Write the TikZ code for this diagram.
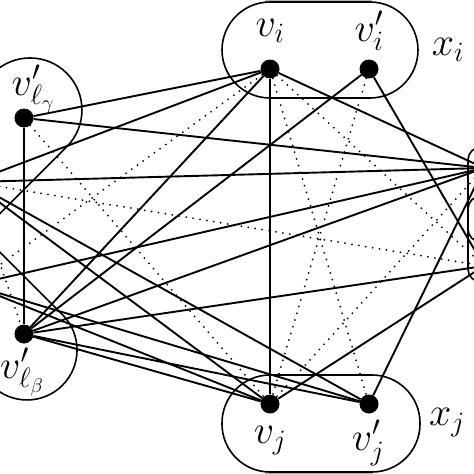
\RequirePackage{fix-cm}
\documentclass[tikz,border=0pt]{standalone}
\begin{document}
\begin{tikzpicture}[x=1pt,y=-1pt,
  vtx/.style={circle,fill=black,inner sep=0pt,minimum size=19pt},
  edge/.style={line width=1.9pt},
  dotedge/.style={line width=2pt,dash pattern=on 0pt off 7pt,line cap=round},
  outline/.style={line width=1.6pt},
  lbl/.style={font=\fontsize{40}{44}\selectfont,inner sep=0pt}]
\useasboundingbox (0,0) rectangle (474,474);
\clip (0,0) rectangle (474,474);
% gray bars at the frame
\fill[gray!60] (265,0) rectangle (372,3);
\fill[gray!60] (265,471) rectangle (372,474);
% vertices
\node[vtx] (lg) at (24,118) {};
\node[vtx] (lb) at (24,334) {};
\node[vtx] (vi) at (270,69) {};
\node[vtx] (vip) at (369,69) {};
\node[vtx] (vj) at (270,404) {};
\node[vtx] (vjp) at (369,404) {};
\coordinate (L1) at (-28,182);
\coordinate (L2) at (-28,285);
\coordinate (R1) at (484,168);
\coordinate (R2) at (484,266);
% enclosing shapes
\draw[outline] (-156.8,223.2) -- (-6.8,73.2) arc[start angle=135,end angle=-45,radius=52pt] -- ++(-150,150);
\draw[outline] (-87.6,164.6) -- (62.4,314.6) arc[start angle=45,end angle=-135,radius=50pt] -- ++(-150,-150);
\draw[outline,rounded corners=48pt] (222,2) rectangle (418,98);
\draw[outline,rounded corners=48pt] (222,375) rectangle (420,472);
\draw[outline,rounded corners=13pt] (468,147) rectangle (560,242);
\draw[outline,rounded corners=13pt] (468,196) rectangle (560,282);
% dotted edges
\draw[dotedge] (lg) -- (vj);
\draw[dotedge] (vi) -- (L2);
\draw[dotedge] (L1) -- (R2);
\draw[dotedge] (L1) -- (lb);
\draw[dotedge] (vi) -- (vjp);
\draw[dotedge] (vip) -- (vj);
\draw[dotedge] (vi) -- (R2);
\draw[dotedge] (R1) -- (vj);
% solid edges
\draw[edge] (lg) -- (lb);
\draw[edge] (lg) -- (vi);
\draw[edge] (lg) -- (R1);
\draw[edge] (lb) -- (vi);
\draw[edge] (lb) -- (vip);
\draw[edge] (lb) -- (R1);
\draw[edge] (lb) -- (R2);
\draw[edge] (lb) -- (vj);
\draw[edge] (lb) -- (vjp);
\draw[edge] (L1) -- (vi);
\draw[edge] (L1) -- (R1);
\draw[edge] (L1) -- (vj);
\draw[edge] (L1) -- (vjp);
\draw[edge] (L2) -- (R1);
\draw[edge] (L2) -- (vj);
\draw[edge] (L2) -- (vjp);
\draw[edge] (vi) -- (vj);
\draw[edge] (vi) -- (R1);
\draw[edge] (vip) -- (R2);
\draw[edge] (vjp) -- (R1);
\draw[edge] (vj) -- (R2);
% labels
\node[lbl] (tlg) at (33,89) {$v'_{\ell_\gamma}$};
\node[lbl] (tlb) at (22,372) {$v'_{\ell_\beta}$};
\node[lbl] (tvi) at (270,31) {$v_i$};
\node[lbl] (tvip) at (369,31) {$v'_i$};
\node[lbl] (txi) at (448,50) {$x_i$};
\node[lbl] (tvj) at (270,441) {$v_j$};
\node[lbl] (tvjp) at (368,443) {$v'_j$};
\node[lbl] (txj) at (447,423) {$x_j$};
\end{tikzpicture}
\end{document}
